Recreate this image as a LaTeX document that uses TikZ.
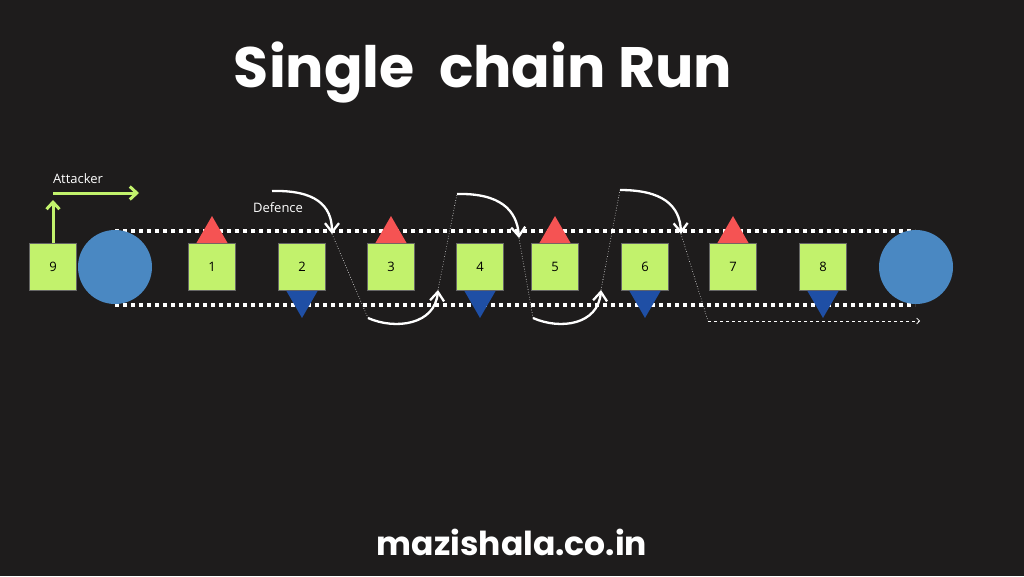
\documentclass[tikz,border=0pt]{standalone}
\usepackage{fontspec}
\setmainfont{Poppins}
\newfontfamily\bodyf{Open Sans}
\usetikzlibrary{arrows.meta,shapes.geometric}
\definecolor{bg}{HTML}{1E1C1C}
\definecolor{plc}{HTML}{C2F26C}
\definecolor{ball}{HTML}{4A88C2}
\definecolor{rd}{HTML}{F55353}
\definecolor{bl}{HTML}{1F4FA5}
\tikzset{
 pl/.style={draw=black!60,line width=0.5pt,fill=plc,minimum size=47pt,inner sep=0pt,font=\bodyf\fontsize{13}{13}\selectfont},
 ball/.style={circle,fill=ball,minimum size=74pt,inner sep=0pt},
 tri/.style={isosceles triangle,isosceles triangle apex angle=60,minimum height=27pt,minimum width=31pt,inner sep=0pt},
 lane/.style={white,line width=4pt,dash pattern=on 4pt off 4pt},
 run/.style={white,line width=2.3pt,-{Straight Barb[length=9pt,width=14pt,line width=2.3pt]}},
 thin/.style={white!80,line width=0.6pt,dotted},
 att/.style={draw=plc,line width=3pt,-{Straight Barb[length=7pt,width=13pt]}},
 lbl/.style={text=white,font=\bodyf\fontsize{13}{13}\selectfont}
}
\begin{document}
\begin{tikzpicture}[x=1pt,y=-1pt]
\fill[bg] (0,0) rectangle (1024,576);
\useasboundingbox (0,0) rectangle (1024,576);
\node[text=white,font=\fontsize{57}{57}\bfseries\selectfont] (title) at (483,73) {Single\ \ chain Run};
\node[text=white,font=\fontsize{33}{33}\bfseries\selectfont] (site) at (512,542) {mazishala.co.in};
\draw[lane] (115,231) -- (915,231);
\draw[lane] (115,305) -- (915,305);
\node[ball] (bl1) at (115,267) {};
\node[ball] (bl2) at (916,267) {};
\foreach \n/\x in {9/53,1/212,2/302,3/391,4/480,5/555,6/645,7/733,8/823}
  \node[pl] (p\n) at (\x,267) {\n};
\foreach \n in {1,3,5,7}
  \node[tri,fill=rd,shape border rotate=90,anchor=south] at (p\n.north) {};
\foreach \n in {2,4,6,8}
  \node[tri,fill=bl,shape border rotate=270,anchor=north] at (p\n.south) {};
\coordinate (aup) at (53,200);
\coordinate (a0) at (53,193);
\coordinate (a1) at (139,193);
\draw[att] (p9.north) -- (aup);
\draw[att] (a0) -- (a1);
\node[lbl] (att) at (78,179) {Attacker};
\node[lbl] (def) at (278,208) {Defence};
\coordinate (c0) at (272,191); \coordinate (c1) at (332,234);
\coordinate (c2) at (368,318); \coordinate (c3) at (438,290);
\coordinate (c4) at (457,194); \coordinate (c5) at (519,238);
\coordinate (c6) at (533,318); \coordinate (c7) at (601,290);
\coordinate (c8) at (620,190); \coordinate (c9) at (681,234);
\coordinate (c10) at (708,321); \coordinate (c11) at (920,321);
\draw[run] (c0) .. controls (315,190) and (332,205) .. (c1);
\draw[thin] (c1) -- (c2);
\draw[run] (c2) .. controls (395,330) and (435,325) .. (c3);
\draw[thin] (c3) -- (c4);
\draw[run] (c4) .. controls (500,193) and (517,210) .. (c5);
\draw[thin] (c5) -- (c6);
\draw[run] (c6) .. controls (560,330) and (598,325) .. (c7);
\draw[thin] (c7) -- (c8);
\draw[run] (c8) .. controls (662,190) and (680,205) .. (c9);
\draw[thin] (c9) -- (c10);
\draw[white,line width=0.6pt,dashed,-{Straight Barb[length=3pt]}] (c10) -- (c11);
\end{tikzpicture}
\end{document}
